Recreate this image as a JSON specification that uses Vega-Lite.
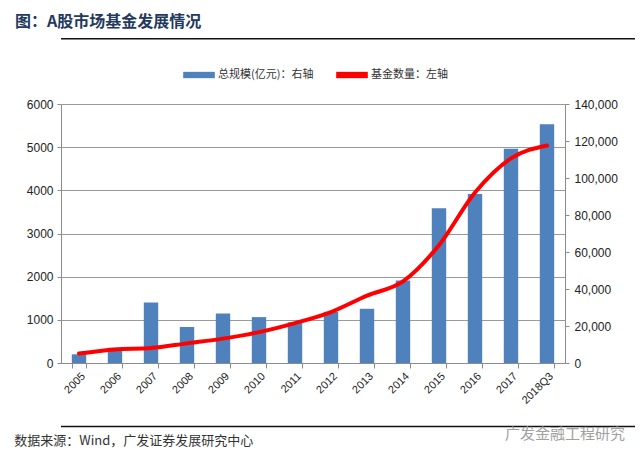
{
  "$schema": "https://vega.github.io/schema/vega-lite/v6.json",
  "padding": {"top": 14, "left": 5, "right": 5, "bottom": 5},
  "background": "white",
  "columns": 1,
  "spacing": 19,
  "resolve": {"legend": {"color": "independent"}},
  "config": {
    "view": {"stroke": null},
    "font": "Liberation Sans",
    "axis": {"labelFont": "Liberation Sans", "labelColor": "#222222", "domainColor": "#8c8c8c", "tickColor": "#8c8c8c", "gridColor": "#9a9a9a", "labelFontSize": 12}
  },
  "concat": [
    {
      "width": 574,
      "height": 1.5,
      "data": {"values": [{"t": "图：A股市场基金发展情况", "a": 0, "b": 1, "y0": 0, "y1": 1}]},
      "layer": [
        {
          "mark": {"type": "rect", "color": "#111111"},
          "encoding": {
            "x": {"field": "a", "type": "quantitative", "scale": {"domain": [0, 1]}, "axis": null},
            "x2": {"field": "b"},
            "y": {"field": "y0", "type": "quantitative", "scale": {"domain": [0, 1]}, "axis": null},
            "y2": {"field": "y1"}
          }
        },
        {
          "mark": {"type": "text", "align": "left", "dx": -46, "dy": -16, "fontSize": 16, "fontWeight": "bold", "color": "#23395d", "font": "Noto Sans CJK SC"},
          "encoding": {
            "x": {"field": "a", "type": "quantitative"},
            "y": {"field": "y1", "type": "quantitative"},
            "text": {"field": "t"}
          }
        }
      ]
    },
    {
      "width": 504,
      "height": 259,
      "data": {"values": [
        {"year": "2005", "aum": 4700, "count": 218},
        {"year": "2006", "aum": 8200, "count": 315},
        {"year": "2007", "aum": 32700, "count": 345},
        {"year": "2008", "aum": 19400, "count": 455},
        {"year": "2009", "aum": 26750, "count": 565},
        {"year": "2010", "aum": 24800, "count": 715},
        {"year": "2011", "aum": 22000, "count": 925},
        {"year": "2012", "aum": 27700, "count": 1180},
        {"year": "2013", "aum": 29300, "count": 1560},
        {"year": "2014", "aum": 44600, "count": 1890},
        {"year": "2015", "aum": 83700, "count": 2730},
        {"year": "2016", "aum": 91300, "count": 3950},
        {"year": "2017", "aum": 115800, "count": 4740},
        {"year": "2018Q3", "aum": 129000, "count": 5040}
      ]},
      "encoding": {
        "x": {
          "field": "year", "type": "nominal", "sort": null, "title": null,
          "scale": {"paddingInner": 0.6, "paddingOuter": 0.3},
          "axis": {"labelAngle": -45, "tickBand": "extent", "labelFontSize": 11, "tickSize": 5, "labelPadding": 2}
        }
      },
      "layer": [
        {
          "mark": {"type": "bar", "color": "#4F81BD"},
          "encoding": {
            "y": {"field": "aum", "type": "quantitative", "title": null,
              "scale": {"domain": [0, 140000], "nice": false},
              "axis": {"orient": "right", "values": [0, 20000, 40000, 60000, 80000, 100000, 120000, 140000], "labelExpr": "format(datum.value, ',')", "grid": false, "tickSize": 4, "labelPadding": 5}},
            "color": {"datum": "总规模(亿元)：右轴", "type": "nominal",
              "scale": {"domain": ["总规模(亿元)：右轴", "基金数量：左轴"], "range": ["#4F81BD", "#FF0000"]},
              "legend": {"orient": "none", "legendX": 122, "legendY": -45, "direction": "horizontal", "title": null, "symbolType": "M-1,-0.2H1V0.2H-1Z", "symbolSize": 1000, "symbolStrokeWidth": 0, "labelFontSize": 11, "labelFont": "Noto Sans CJK SC", "labelColor": "#333333", "columnPadding": 22, "labelOffset": 3, "padding": 0,
                "encode": {"symbols": {"update": {"fill": {"scale": "color", "field": "value"}, "opacity": {"value": 1}}}}}}
          }
        },
        {
          "mark": {"type": "line", "strokeWidth": 4, "interpolate": "monotone", "strokeCap": "round"},
          "encoding": {
            "y": {"field": "count", "type": "quantitative", "title": null,
              "scale": {"domain": [0, 6000], "nice": false},
              "axis": {"orient": "left", "values": [0, 1000, 2000, 3000, 4000, 5000, 6000], "labelExpr": "format(datum.value, 'd')", "grid": true, "tickSize": 4, "labelPadding": 4, "minExtent": 56, "maxExtent": 56}},
            "color": {"datum": "基金数量：左轴", "type": "nominal"}
          }
        }
      ],
      "resolve": {"scale": {"y": "independent"}}
    },
    {
      "width": 574,
      "height": 1,
      "title": {"text": "数据来源：Wind，广发证券发展研究中心", "orient": "bottom", "anchor": "start", "fontSize": 13, "fontWeight": "normal", "color": "#333333", "font": "Noto Sans CJK SC", "offset": -7, "dx": -46},
      "data": {"values": [{"t": "广发金融工程研究"}]},
      "encoding": {
        "x": {"datum": 0, "type": "quantitative", "scale": {"domain": [0, 1]}, "axis": null}
      },
      "layer": [
        {
          "mark": {"type": "rule", "color": "#111111", "strokeWidth": 1.3},
          "encoding": {"x2": {"datum": 1}}
        },
        {
          "mark": {"type": "text", "align": "right", "dx": -10, "dy": 7, "fontSize": 15, "color": "#a0a0a0", "font": "Noto Sans CJK SC"},
          "encoding": {
            "text": {"field": "t"},
            "x": {"datum": 1, "type": "quantitative"}
          }
        }
      ]
    }
  ]
}
